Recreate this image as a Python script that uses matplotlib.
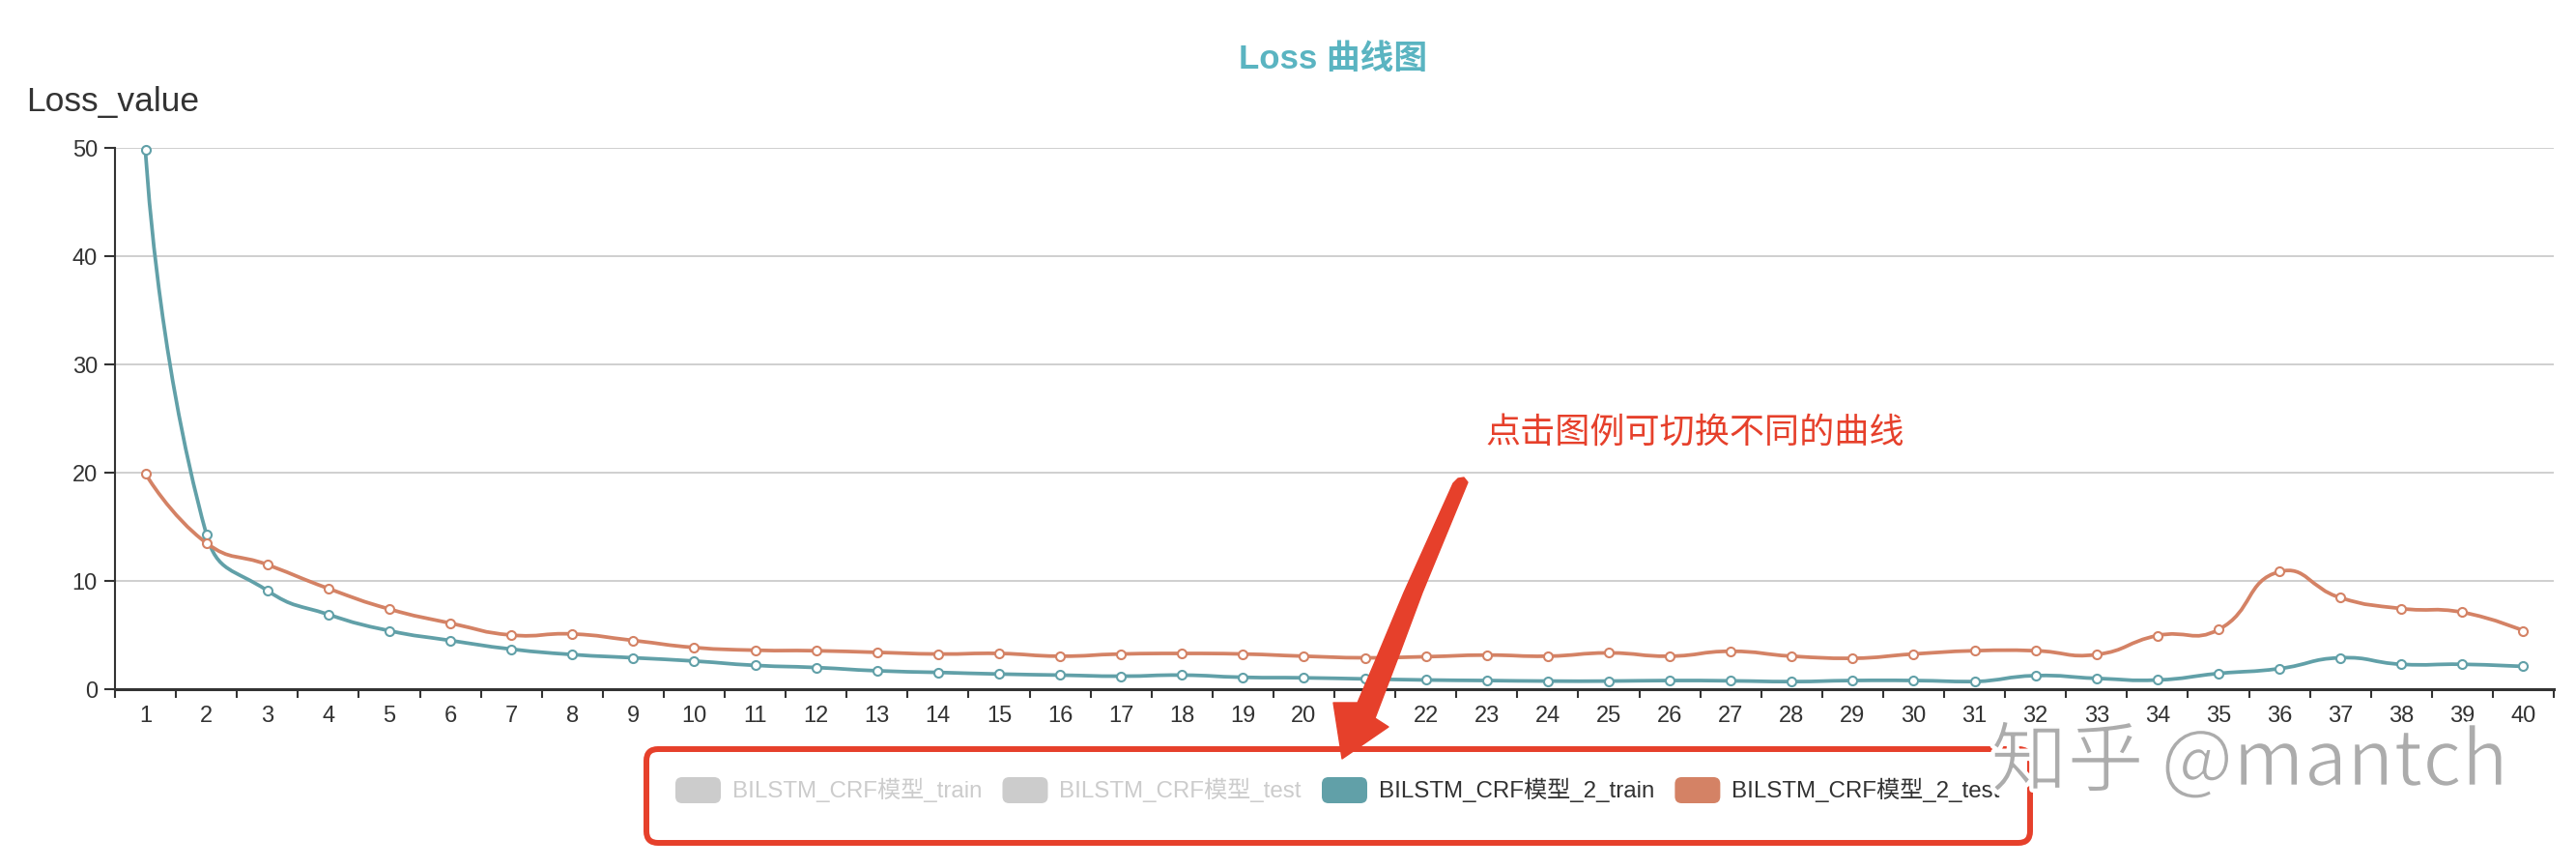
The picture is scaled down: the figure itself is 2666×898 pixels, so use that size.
import numpy as np
import matplotlib
matplotlib.use('Agg')
import matplotlib.pyplot as plt
from matplotlib.path import Path
from matplotlib.patches import PathPatch, FancyBboxPatch, Polygon
from matplotlib.transforms import Affine2D
import matplotlib.patheffects as pe

plt.rcParams['font.family'] = ['Liberation Sans', 'Noto Sans CJK SC', 'DejaVu Sans']

# data
epochs = list(range(1, 41))
train_2 = [49.8, 14.3, 9.1, 6.9, 5.4, 4.5, 3.7, 3.2, 2.9, 2.6,
           2.2, 2.0, 1.7, 1.55, 1.4, 1.3, 1.2, 1.3, 1.1, 1.05,
           0.95, 0.85, 0.8, 0.75, 0.75, 0.8, 0.77, 0.7, 0.8, 0.8,
           0.7, 1.25, 1.0, 0.85, 1.45, 1.9, 2.9, 2.3, 2.3, 2.1]
test_2 = [19.9, 13.5, 11.5, 9.3, 7.4, 6.1, 5.0, 5.1, 4.5, 3.85,
          3.6, 3.55, 3.4, 3.25, 3.3, 3.05, 3.25, 3.3, 3.25, 3.05,
          2.9, 3.0, 3.15, 3.05, 3.35, 3.05, 3.5, 3.05, 2.85, 3.25,
          3.55, 3.55, 3.2, 4.95, 5.5, 10.85, 8.45, 7.45, 7.1, 5.4]
y_ticks = [0, 10, 20, 30, 40, 50]
legend_labels = ['BILSTM_CRF模型_train', 'BILSTM_CRF模型_test',
                 'BILSTM_CRF模型_2_train', 'BILSTM_CRF模型_2_test']
legend_active = [False, False, True, True]

TEAL = '#61a0a8'
ORANGE = '#d48265'
RED = '#e6402b'

W, H = 2666, 898
fig = plt.figure(figsize=(W / 100, H / 100), dpi=100)
px = Affine2D().scale(1, -1).translate(0, H)  # pixels, origin top-left

left, right, top, bottom = 119, 2643, 153, 713
ax = fig.add_axes([left / W, 1 - bottom / H, (right - left) / W, (bottom - top) / H])
ax.set_xlim(0.5, 40.5)
ax.set_ylim(0, 50)

sx = (right - left) / 40.0
sy = (bottom - top) / 50.0


def smooth_path(xs, ys, smooth=0.5):
    # echarts style smooth bezier, computed in pixel space
    p = np.column_stack([np.asarray(xs, float) * sx, np.asarray(ys, float) * sy])
    lo, hi = p.min(axis=0), p.max(axis=0)
    n = len(p)
    verts = [p[0]]
    codes = [Path.MOVETO]
    cp0 = p[0].copy()
    for i in range(1, n):
        cur = p[i]
        prev = p[i - 1]
        v = None
        if i == n - 1:
            cp1 = cur.copy()
        else:
            nxt = p[i + 1]
            v = nxt - prev
            d0 = np.hypot(*(cur - prev))
            d1 = np.hypot(*(nxt - cur))
            r = d1 / (d0 + d1)
            cp1 = cur - v * smooth * (1 - r)
        cp0 = np.clip(cp0, lo, hi)
        cp1 = np.clip(cp1, lo, hi)
        verts += [cp0, cp1, cur]
        codes += [Path.CURVE4] * 3
        if v is not None:
            cp0 = cur + v * smooth * r
    verts = np.array(verts) / [sx, sy]
    return Path(verts, codes)


for vals, color in [(train_2, TEAL), (test_2, ORANGE)]:
    ax.add_patch(PathPatch(smooth_path(epochs, vals), fc='none', ec=color,
                           lw=2.7, zorder=3, capstyle='round', joinstyle='round'))
    ax.plot(epochs, vals, 'o', ms=6.5, mfc='white', mec=color, mew=1.5,
            zorder=4, clip_on=False)

# axes styling
ax.set_xticks(np.arange(0.5, 41, 1))
ax.set_xticks(epochs, minor=True)
ax.set_xticklabels([str(e) for e in epochs], minor=True)
ax.tick_params(axis='x', which='major', length=6.5, width=1.5, color='#333333',
               labelbottom=False)
ax.tick_params(axis='x', which='minor', length=0, pad=12.5, labelsize=17,
               labelcolor='#333333')
ax.set_yticks(y_ticks)
ax.tick_params(axis='y', length=8, width=1.5, color='#333333', pad=5,
               labelsize=17, labelcolor='#333333')
ax.yaxis.grid(True, color='#cccccc', lw=1.3)
ax.set_axisbelow(True)
for s in ['top', 'right']:
    ax.spines[s].set_visible(False)
ax.spines['left'].set_color('#333333')
ax.spines['left'].set_linewidth(1.5)
ax.spines['bottom'].set_color('#333333')
ax.spines['bottom'].set_linewidth(2.2)

# titles
fig.text(1380, 61, 'Loss 曲线图', transform=px, ha='center', va='center',
         fontsize=25, fontweight='bold', color='#5ab4c1')
fig.text(27, 106, 'Loss_value', transform=px, ha='left', va='center',
         fontsize=25.5, color='#333333')

# legend
renderer = fig.canvas.get_renderer()
x = 699
colors = ['#cccccc', '#cccccc', TEAL, ORANGE]
for label, active, color in zip(legend_labels, legend_active, colors):
    fig.add_artist(FancyBboxPatch((x, 804), 47, 27,
                                  boxstyle='round,pad=0,rounding_size=7',
                                  transform=px, fc=color, ec='none'))
    t = fig.text(x + 59, 817, label, transform=px, ha='left', va='center',
                 fontsize=17.4, color='#333333' if active else '#cccccc')
    x = x + 59 + t.get_window_extent(renderer).width + 21

# annotation
fig.text(1537, 448, '点击图例可切换不同的曲线', transform=px, ha='left', va='center',
         fontsize=26, color=RED, family=['Noto Sans CJK SC'])
arrow = [(1504, 500), (1509, 495), (1515, 494), (1519, 499), (1472, 613),
         (1447, 680), (1423, 743), (1437, 752), (1389, 785), (1380, 727),
         (1405, 727), (1425, 680), (1453, 613)]
fig.add_artist(Polygon(arrow, closed=True, transform=px, fc=RED, ec=RED,
                       lw=1, joinstyle='round'))
fig.add_artist(FancyBboxPatch((669, 775), 1432, 97,
                              boxstyle='round,pad=0,rounding_size=12',
                              transform=px, fc='none', ec=RED, lw=4.3))

# watermark
fig.text(2328, 790, '知乎 @mantch', transform=px, ha='center', va='center',
         fontsize=57, color='#acacac', family=['Noto Sans CJK SC'], zorder=10,
         path_effects=[pe.Stroke(linewidth=5, foreground='white'), pe.Normal(),
                       pe.Stroke(linewidth=1.2, foreground='white')])

fig.savefig('out.png', dpi=100, facecolor='white')
